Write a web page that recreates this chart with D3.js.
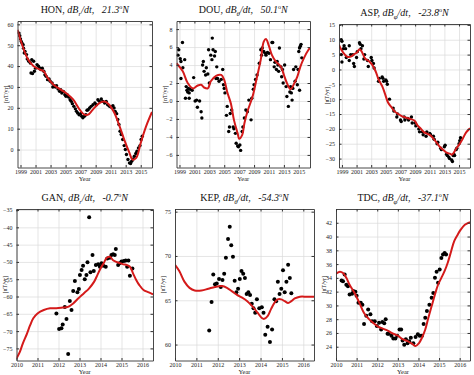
<!DOCTYPE html>
<html>
<head>
<meta charset="utf-8">
<script src="https://cdn.jsdelivr.net/npm/d3@7"></script>
<style>
  body { margin: 0; background: #fff; }
  svg { display: block; font-family: "Liberation Serif", "DejaVu Serif", serif; }
</style>
</head>
<body>
<svg id="chart" width="474" height="375"></svg>
<script>
// tick labels
const topYears = [1999, 2001, 2003, 2005, 2007, 2009, 2011, 2013, 2015];
const bottomYears = [2010, 2011, 2012, 2013, 2014, 2015, 2016];
const honTicks = [0, 10, 20, 30, 40, 50, 60];
const douTicks = [-6, -4, -2, 0, 2, 4, 6, 8];
const aspTicks = [-30, -25, -20, -15, -10, -5, 0, 5, 10, 15];
const ganTicks = [-75, -70, -65, -60, -55, -50, -45, -40, -35];
const kepTicks = [60, 65, 70, 75];
const tdcTicks = [24, 26, 28, 30, 32, 34, 36, 38, 40, 42];

// HON, dBr/dt
const honDots = [[1998.8,55.8],[1998.9,54.5],[1999,53],[1999.1,51.8],[1999.2,51],[1999.35,50.2],[1999.4,48.6],[1999.5,46.3],[1999.6,47],[1999.8,45.5],[1999.9,43.4],[2000.1,42.3],[2000.3,41.5],[2000.5,43],[2000.75,42.3],[2000.4,36.7],[2000.6,36.4],[2000.85,37.5],[2001,39],[2001.2,40.7],[2001.4,39.9],[2001.55,39],[2001.7,38.3],[2001.9,39],[2002.1,37.5],[2002.25,35.9],[2002.4,35.1],[2002.6,33.5],[2002.8,33.8],[2002.95,32.7],[2003.2,31.9],[2003.3,30],[2003.5,30.6],[2003.65,30],[2003.8,30.6],[2004,29],[2004.2,27.9],[2004.35,28.7],[2004.5,27.1],[2004.7,27.9],[2004.9,26.3],[2005.05,25.5],[2005.2,26.3],[2005.4,25.2],[2005.6,23.9],[2005.75,23.1],[2005.9,22],[2006.1,20.7],[2006.3,19.5],[2006.45,18.3],[2006.6,17.5],[2006.8,16.7],[2007,17.2],[2007.15,15.9],[2007.3,15.2],[2007.5,15.9],[2007.7,16.7],[2007.85,18.8],[2008,19.1],[2008.2,19.9],[2008.4,20.7],[2008.65,21.5],[2008.9,22.3],[2009.1,21.5],[2009.3,23.9],[2009.5,23.1],[2009.75,24.2],[2009.95,23.1],[2010.2,22.3],[2010.4,23.1],[2010.6,21.5],[2010.85,20.7],[2011.05,20.4],[2011.3,21],[2011.45,19.9],[2011.6,18.3],[2011.8,17.2],[2011.95,14.4],[2012.1,12],[2012.25,8.8],[2012.4,7.2],[2012.6,4.8],[2012.8,1.9],[2012.95,0],[2013.1,-2.4],[2013.3,-4.8],[2013.5,-6.4],[2013.65,-6.7],[2013.8,-5.6],[2014,-4.5],[2014.15,-3.2],[2014.35,-1.9],[2014.5,-0.8],[2014.7,0.8],[2014.9,1.9],[2015.05,4.8],[2015.2,6.4]];
const honCurve = [[1998.6,57.4],[1999.9,43.9],[2000.75,39.9],[2001.6,38.3],[2002.1,37.5],[2002.5,35],[2003.4,31],[2005.1,27],[2006,24],[2006.9,19],[2007.5,16.7],[2008,16.7],[2008.6,19],[2009.5,22.3],[2010.2,23],[2010.8,21.5],[2011.5,17.5],[2012.2,11],[2012.8,4.8],[2013.5,-1.6],[2013.9,-4.8],[2014.4,-4],[2015,3.2],[2015.7,11],[2016.5,18]];

// DOU, dBθ/dt
const douDots = [[1998.8,5.1],[1998.9,5.7],[1999.1,4.7],[1999.2,4.4],[1999.4,6.5],[1999.45,3.7],[1999.7,4.6],[1999.2,2.5],[1999.9,1.6],[2000,1.2],[2000.1,1],[2000.2,1.4],[2000.3,0.9],[2000.4,1.3],[1999.8,0.3],[2000.3,0.3],[2000.7,1.2],[2000.9,2.6],[2001.1,0],[2001.3,0.1],[2001.4,-0.7],[2001.7,0],[2001.9,-1.2],[2002,-1.9],[2002.1,4],[2002.2,4.4],[2002.3,3.3],[2002.5,2.9],[2002.6,3.7],[2002.8,3],[2002.9,5.7],[2003,2],[2003.2,5.1],[2003.35,4.6],[2003.4,7],[2003.5,5.7],[2003.7,5],[2003.8,5.5],[2003.9,2.5],[2004,3.8],[2004.1,2.5],[2004.3,2.2],[2004.6,2.4],[2004.8,3.5],[2004.9,1.8],[2005,1.4],[2005.1,0.9],[2005.3,-1.6],[2005.4,-0.6],[2005.6,-3.4],[2005.7,-2.9],[2005.8,-1.4],[2006,-1],[2006.2,-2.9],[2006.3,-3.1],[2006.5,-3.6],[2006.6,-4.7],[2006.8,-5],[2006.9,-5.1],[2007.1,-4.9],[2007.2,-5.5],[2007.4,-3.4],[2007.5,-2.9],[2007.7,-1.9],[2007.9,-1],[2008.1,-1.2],[2008.3,0.1],[2008.6,-2.1],[2008.7,0.3],[2008.9,1.3],[2009,1.8],[2009.2,2.4],[2009.4,2.9],[2009.7,4.2],[2009.9,5.7],[2010,5.1],[2010.1,5.9],[2010.3,5.5],[2010.5,5.3],[2010.6,5.1],[2010.8,5.4],[2011,5.3],[2011.2,4.6],[2011.4,6.5],[2011.5,6.5],[2011.7,3.8],[2011.8,4.3],[2012,3.5],[2012.1,4.4],[2012.2,4],[2012.3,3.3],[2012.4,5.9],[2012.6,3.8],[2012.7,2.7],[2012.8,3.5],[2012.9,2],[2013.1,4],[2013.3,1.6],[2013.4,0.5],[2013.6,-0.6],[2013.8,1],[2013.9,1.6],[2014,0.9],[2014.1,0.1],[2014.2,1.4],[2014.3,3.5],[2014.5,2.2],[2014.6,3.8],[2014.8,1.8],[2014.9,3.5],[2015,5.5],[2015.1,5.9],[2015.2,6.1],[2015.3,6.3],[2015.1,1.2],[2015.4,4.8]];
const douCurve = [[1998.6,4.2],[1999.44,3.3],[2000.1,2],[2000.8,1.4],[2001.4,1.7],[2001.9,1.8],[2002.3,1.5],[2002.8,1.4],[2003.2,2.2],[2003.9,2.8],[2004.6,2.9],[2005,2.35],[2005.4,1],[2005.9,-0.3],[2006.3,-2.1],[2006.8,-3.6],[2007,-4.2],[2007.4,-3.8],[2007.7,-2.5],[2008.1,-1.2],[2008.8,0.5],[2009.4,2.7],[2009.9,4.6],[2010.3,6.6],[2010.6,6.9],[2011,6.1],[2011.4,5.1],[2011.9,4.4],[2012.6,3.8],[2013,2.9],[2013.4,2],[2013.9,1.3],[2014.3,1.8],[2014.8,2.7],[2015.2,3.8],[2015.7,4.8],[2016.3,5.7],[2016.5,5.9]];

// ASP, dBφ/dt
const aspDots = [[1998.9,10],[1999,9.5],[1998.9,5],[1999,2.5],[1999.2,7],[1999.3,8],[1999.5,7],[1999.6,4],[2000,8],[2000,3],[2000.2,5],[2000.5,5],[2000.6,2],[2000.7,1],[2001,4],[2001.1,6],[2001.4,9],[2001.5,8.5],[2001.6,7],[2001.8,8],[2002,3.5],[2002.1,5],[2002.5,3],[2002.6,1],[2003,4],[2003.1,3],[2003.3,2],[2003.4,0.5],[2004,-4],[2004.1,-3],[2004.5,-2.5],[2004.6,-3],[2004.7,-4],[2005,-3.5],[2005.1,-4],[2005.2,-5],[2005.5,-10],[2006,-13],[2006.1,-14],[2006.5,-16],[2006.6,-15],[2007,-17],[2007.1,-17.5],[2007.5,-16],[2007.6,-17],[2008,-16.5],[2008.1,-17],[2008.5,-16],[2008.6,-18],[2009,-18],[2009.1,-19],[2009.5,-20],[2009.6,-21],[2010,-21],[2010.1,-22],[2010.5,-22.5],[2010.6,-21],[2011,-21.5],[2011.1,-22],[2011.5,-22.5],[2011.6,-23.5],[2012,-25],[2012.1,-24.5],[2012.5,-26.5],[2012.6,-27],[2013,-26],[2013.1,-25.5],[2013.3,-28.5],[2013.4,-29],[2013.6,-29.5],[2013.7,-30],[2014,-30.5],[2014.1,-31],[2014.2,-29],[2014.3,-28.5],[2014.4,-29],[2014.6,-27],[2014.7,-26.5],[2015,-25],[2015.1,-24],[2015.2,-23]];
const aspCurve = [[1998.6,8.3],[1998.9,6.7],[1999.4,5],[1999.8,4.2],[2000.3,4.4],[2000.7,5.2],[2001.1,5.8],[2001.35,6.7],[2001.6,6.4],[2001.9,5],[2002.2,3.6],[2002.7,2.8],[2003.1,1.7],[2003.6,-0.6],[2004,-3.3],[2004.5,-5.6],[2004.9,-8.3],[2005.3,-11.1],[2005.8,-12.8],[2006.2,-14.1],[2006.7,-15],[2007.1,-15.6],[2007.6,-16.1],[2008,-16.4],[2008.4,-16.7],[2008.9,-17.2],[2009.3,-18.7],[2009.8,-20],[2010.2,-21.1],[2010.7,-21.7],[2011.1,-22.2],[2011.5,-23.3],[2012,-24.8],[2012.4,-26.1],[2012.9,-27.2],[2013.3,-28],[2013.8,-28.4],[2014,-28.7],[2014.2,-28.3],[2014.6,-26.7],[2015.1,-25],[2015.5,-23.3],[2016,-21.1],[2016.5,-19.8]];

// GAN, dBr/dt
const ganDots = [[2011.9,-64.9],[2012.03,-69.4],[2012.14,-69.2],[2012.2,-68.1],[2012.3,-63],[2012.38,-66.5],[2012.46,-76.6],[2012.54,-61.3],[2012.62,-63.9],[2012.7,-58.4],[2012.78,-55.5],[2012.9,-58.8],[2012.97,-57.8],[2013.02,-53.8],[2013.1,-52.3],[2013.17,-51.1],[2013.25,-55],[2013.33,-53.8],[2013.38,-50.1],[2013.46,-37.1],[2013.52,-53],[2013.62,-48],[2013.68,-52.6],[2013.78,-50.9],[2013.89,-50.7],[2013.97,-51.4],[2014.05,-50.4],[2014.13,-51.1],[2014.25,-51.4],[2014.32,-49],[2014.44,-48.8],[2014.52,-48],[2014.6,-47.8],[2014.68,-48],[2014.73,-46.3],[2014.84,-50.9],[2014.92,-50.4],[2015,-49.9],[2015.11,-49.7],[2015.2,-49.6],[2015.27,-51.4],[2015.33,-49.6],[2015.4,-54],[2015.52,-51.9]];
const ganCurve = [[2010,-77.9],[2010.16,-76],[2010.3,-73.6],[2010.5,-70.7],[2010.65,-68.3],[2010.8,-66.3],[2011,-64.9],[2011.3,-63.9],[2011.6,-63.4],[2011.9,-63.4],[2012.2,-63.2],[2012.45,-63],[2012.7,-62],[2012.95,-60.5],[2013.2,-59.1],[2013.45,-57.7],[2013.7,-55.7],[2013.85,-53.8],[2014,-51.9],[2014.15,-50.4],[2014.3,-48.8],[2014.45,-48.5],[2014.6,-49.5],[2014.8,-50.1],[2014.95,-50.4],[2015.1,-50.7],[2015.25,-50.9],[2015.4,-51.4],[2015.55,-53.3],[2015.7,-55.2],[2015.85,-56.7],[2016.05,-58.1],[2016.3,-58.8],[2016.5,-59.4]];

// KEP, dBθ/dt
const kepDots = [[2011.6,61.6],[2011.71,64.8],[2011.79,67.9],[2011.87,66.8],[2011.95,66.9],[2012.06,67.4],[2012.14,66.5],[2012.22,67.3],[2012.3,68],[2012.38,69.8],[2012.48,71.9],[2012.56,73.3],[2012.63,71.2],[2012.71,69.9],[2012.79,67.2],[2012.87,65.9],[2012.95,66.3],[2013.03,67.4],[2013.11,68.3],[2013.19,68],[2013.27,67.5],[2013.35,65.7],[2013.43,65.9],[2013.51,65.6],[2013.59,64.6],[2013.67,64.1],[2013.75,63.6],[2013.83,65.1],[2013.94,64.1],[2014.06,64.2],[2014.14,63.6],[2014.22,61.1],[2014.33,62],[2014.44,60.3],[2014.54,61.7],[2014.65,65.1],[2014.73,64.9],[2014.81,67.1],[2014.89,65.7],[2014.97,66.3],[2015.05,68.4],[2015.13,65.9],[2015.21,67.1],[2015.29,69],[2015.37,67.5],[2015.44,65.8]];
const kepCurve = [[2010,69],[2010.2,68.3],[2010.44,67.1],[2010.68,66.4],[2010.92,66.1],[2011.24,66.1],[2011.56,66.3],[2011.87,66.5],[2012.2,66.6],[2012.43,66.4],[2012.67,66],[2012.9,65.6],[2013.14,65.3],[2013.38,64.9],[2013.62,64.3],[2013.86,63.6],[2014.06,63],[2014.17,62.9],[2014.33,63.2],[2014.49,64],[2014.65,64.7],[2014.8,65.1],[2014.97,65.1],[2015.13,64.9],[2015.29,64.7],[2015.44,64.9],[2015.6,65.2],[2015.84,65.4],[2016.16,65.4],[2016.5,65.4]];

// TDC, dBφ/dt
const tdcDots = [[2010.27,33.6],[2010.34,33.5],[2010.42,34.5],[2010.5,33],[2010.58,32.8],[2010.66,31.6],[2010.78,31.7],[2010.84,32.1],[2010.94,32],[2011,31.4],[2011.09,30.4],[2011.2,30.4],[2011.28,30.1],[2011.36,27.3],[2011.47,28.5],[2011.56,29.4],[2011.67,28.7],[2011.75,27.7],[2011.88,27.7],[2011.98,27],[2012.09,27.5],[2012.19,26.5],[2012.25,27.6],[2012.34,27.4],[2012.41,28],[2012.5,25.9],[2012.56,25.9],[2012.69,25.6],[2012.78,25.2],[2012.88,25.2],[2012.97,25.6],[2013.08,26.5],[2013.16,26.5],[2013.23,24.9],[2013.31,24.3],[2013.39,25.1],[2013.47,24.5],[2013.55,24.8],[2013.63,25.3],[2013.75,24.5],[2013.86,25.4],[2013.97,25.8],[2014.06,25.6],[2014.17,25.6],[2014.25,27.3],[2014.33,28.2],[2014.41,29.2],[2014.53,30.1],[2014.64,31.1],[2014.72,31.8],[2014.8,34],[2014.88,34.9],[2014.95,33.3],[2015.03,35.2],[2015.11,36.9],[2015.19,37.4],[2015.27,37.6],[2015.34,37.4]];
const tdcCurve = [[2010,34.6],[2010.19,34.9],[2010.34,34.7],[2010.5,34],[2010.66,33],[2010.9,31.8],[2011.13,30.4],[2011.36,28.9],[2011.6,28],[2011.83,27.4],[2012.06,26.9],[2012.3,26.6],[2012.53,26.3],[2012.77,25.9],[2013,25.6],[2013.23,25.1],[2013.47,24.8],[2013.7,24.4],[2013.86,24.1],[2014.02,24.5],[2014.17,25.3],[2014.33,26.5],[2014.48,28.2],[2014.64,29.9],[2014.8,31.6],[2014.95,33],[2015.11,34],[2015.27,35],[2015.42,36.2],[2015.58,37.8],[2015.73,39.3],[2015.89,40.2],[2016.05,41],[2016.25,41.7],[2016.5,42.1]];

const panels = [
  { station: "HON", comp: "r", lat: "21.3", dots: honDots, curve: honCurve, yTicks: honTicks, xTicks: topYears,
    xDomain: [1998.6, 2016.5], yDomain: [-8.6, 61.6], box: [17.5, 21, 152, 167.5], r: 1.7 },
  { station: "DOU", comp: "θ", lat: "50.1", dots: douDots, curve: douCurve, yTicks: douTicks, xTicks: topYears,
    xDomain: [1998.6, 2016.5], yDomain: [-7.4, 8.9], box: [176.5, 21, 310, 167.5], r: 1.7 },
  { station: "ASP", comp: "φ", lat: "-23.8", dots: aspDots, curve: aspCurve, yTicks: aspTicks, xTicks: topYears,
    xDomain: [1998.6, 2016.5], yDomain: [-33, 15.3], box: [339, 24, 470, 167.5], r: 1.7 },
  { station: "GAN", comp: "r", lat: "-0.7", dots: ganDots, curve: ganCurve, yTicks: ganTicks, xTicks: bottomYears,
    xDomain: [2010, 2016.5], yDomain: [-78.5, -34.7], box: [16.5, 209, 153, 360.5], r: 2 },
  { station: "KEP", comp: "θ", lat: "-54.3", dots: kepDots, curve: kepCurve, yTicks: kepTicks, xTicks: bottomYears,
    xDomain: [2010, 2016.5], yDomain: [58.2, 75.3], box: [175, 209, 314, 360.5], r: 2 },
  { station: "TDC", comp: "φ", lat: "-37.1", dots: tdcDots, curve: tdcCurve, yTicks: tdcTicks, xTicks: bottomYears,
    xDomain: [2010, 2016.5], yDomain: [22, 44], box: [336, 209, 470, 360.5], r: 2 }
];

const svg = d3.select("#chart");

panels.forEach(p => drawPanel(p));

function drawPanel(p) {
  const [x0, y0, x1, y1] = p.box;
  const x = d3.scaleLinear().domain(p.xDomain).range([x0, x1]);
  const y = d3.scaleLinear().domain(p.yDomain).range([y1, y0]);
  const g = svg.append("g");

  // grid
  g.append("g")
    .attr("transform", `translate(0,${y1})`)
    .call(d3.axisBottom(x).tickValues(p.xTicks).tickSize(-(y1 - y0)).tickFormat(""))
    .call(a => a.select(".domain").remove())
    .selectAll("line").attr("stroke", "#dadada").attr("stroke-width", 0.7);
  g.append("g")
    .attr("transform", `translate(${x0},0)`)
    .call(d3.axisLeft(y).tickValues(p.yTicks).tickSize(-(x1 - x0)).tickFormat(""))
    .call(a => a.select(".domain").remove())
    .selectAll("line").attr("stroke", "#dadada").attr("stroke-width", 0.7);

  const clipId = "clip-" + p.station;
  svg.append("clipPath").attr("id", clipId)
    .append("rect").attr("x", x0).attr("y", y0).attr("width", x1 - x0).attr("height", y1 - y0);

  // dots
  g.append("g").attr("clip-path", `url(#${clipId})`)
    .selectAll("circle")
    .data(p.dots)
    .join("circle")
    .attr("cx", d => x(d[0]))
    .attr("cy", d => y(d[1]))
    .attr("r", p.r)
    .attr("fill", "#000");

  // model curve
  const line = d3.line().x(d => x(d[0])).y(d => y(d[1])).curve(d3.curveCatmullRom);
  g.append("path")
    .attr("clip-path", `url(#${clipId})`)
    .datum(p.curve)
    .attr("d", line)
    .attr("fill", "none")
    .attr("stroke", "#d41a1a")
    .attr("stroke-width", 2);

  // axes with inward ticks, box around
  const tickStyle = a => {
    a.attr("font-family", "Liberation Serif, serif").attr("font-size", 6);
    a.select(".domain").attr("stroke", "#333").attr("stroke-width", 0.9);
    a.selectAll(".tick line").attr("stroke", "#333");
    a.selectAll("text").attr("fill", "#222");
  };
  g.append("g")
    .attr("transform", `translate(0,${y1})`)
    .call(d3.axisBottom(x).tickValues(p.xTicks).tickSizeInner(-2.5).tickSizeOuter(0).tickPadding(2.5).tickFormat(d3.format("d")))
    .call(tickStyle);
  g.append("g")
    .attr("transform", `translate(0,${y0})`)
    .call(d3.axisTop(x).tickValues(p.xTicks).tickSizeInner(-2.5).tickSizeOuter(0).tickFormat(""))
    .call(tickStyle);
  g.append("g")
    .attr("transform", `translate(${x0},0)`)
    .call(d3.axisLeft(y).tickValues(p.yTicks).tickSizeInner(-2.5).tickSizeOuter(0).tickPadding(4))
    .call(tickStyle);
  g.append("g")
    .attr("transform", `translate(${x1},0)`)
    .call(d3.axisRight(y).tickValues(p.yTicks).tickSizeInner(-2.5).tickSizeOuter(0).tickFormat(""))
    .call(tickStyle);

  // axis labels
  g.append("text")
    .attr("x", (x0 + x1) / 2)
    .attr("y", y1 + 13)
    .attr("text-anchor", "middle")
    .attr("font-size", 6.5)
    .attr("fill", "#222")
    .text("Year");
  g.append("text")
    .attr("transform", `translate(${x0 - 10},${(y0 + y1) / 2}) rotate(-90)`)
    .attr("text-anchor", "middle")
    .attr("font-size", 6)
    .attr("fill", "#222")
    .text("[nT/yr]");

  // title: "HON, dBr/dt,   21.3°N"
  const t = g.append("text")
    .attr("x", (x0 + x1) / 2)
    .attr("y", y0 - 8)
    .attr("text-anchor", "middle")
    .attr("font-size", 10)
    .attr("fill", "#111");
  t.append("tspan").text(p.station + ", ");
  t.append("tspan").attr("font-style", "italic").text("dB");
  t.append("tspan").attr("font-style", "italic").attr("font-size", 7).attr("dy", 2.5).text(p.comp);
  t.append("tspan").attr("font-style", "italic").attr("dy", -2.5).text("/dt,\u00a0\u00a0\u00a0" + p.lat);
  t.append("tspan").attr("font-size", 6).attr("dy", -4).text("o");
  t.append("tspan").attr("font-style", "italic").attr("dy", 4).text("N");
}
</script>
</body>
</html>
